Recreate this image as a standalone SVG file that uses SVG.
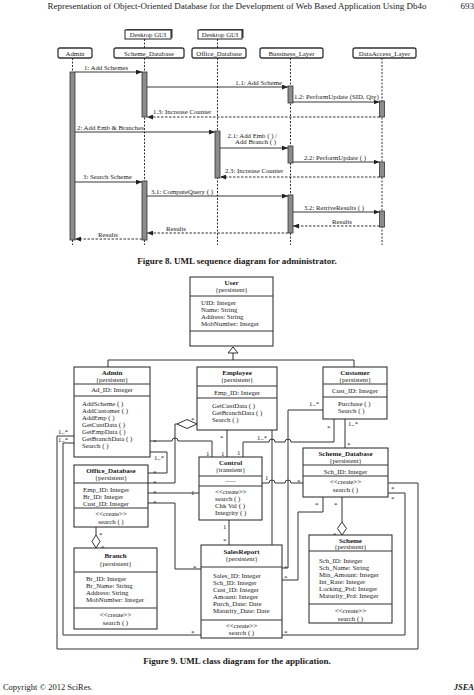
<svg xmlns="http://www.w3.org/2000/svg" width="474" height="695" viewBox="0 0 474 695">
<defs>
<style>
text{font-family:"Liberation Serif","Times New Roman",serif;fill:#1a1a1a}
.hd{font-size:9px}
.cap{font-size:9px;font-weight:bold}
.s{font-size:6.8px}
.c{font-size:6.8px}
.t{font-size:7px;font-weight:bold}
.m{text-anchor:middle}
.e{text-anchor:end}
.box{fill:#fff;stroke:#222;stroke-width:1}
.ll{fill:#fff;stroke:#333;stroke-width:1.3}
.life{stroke:#333;stroke-width:1;stroke-dasharray:2,1.5;fill:none}
.bar{fill:#8c8c8c;stroke:#333;stroke-width:0.8}
.msg{stroke:#222;stroke-width:0.9;fill:none}
.ret{stroke:#222;stroke-width:0.9;fill:none;stroke-dasharray:2.5,1.5}
.cn{stroke:#333;stroke-width:1;fill:none}
.dia{fill:#fff;stroke:#333;stroke-width:1}
</style>
<marker id="ah" viewBox="0 0 10 8" refX="10" refY="4" markerWidth="6" markerHeight="5" markerUnits="userSpaceOnUse" orient="auto"><path d="M0,0 L10,4 L0,8 Z" fill="#222"/></marker>
</defs>
<rect width="474" height="695" fill="#fff"/>
<text class="hd m" x="237" y="9">Representation of Object-Oriented Database for the Development of Web Based Application Using Db4o</text>
<text class="hd e" x="474" y="9">693</text>

<!-- Sequence diagram -->
<g id="seq-lifelines">
<line class="life" x1="144.5" y1="39" x2="144.5" y2="48"/>
<line class="life" x1="217.5" y1="39" x2="217.5" y2="48"/>
<line class="life" x1="72.5" y1="58" x2="72.5" y2="245"/>
<line class="life" x1="144.5" y1="58" x2="144.5" y2="245"/>
<line class="life" x1="217.5" y1="58" x2="217.5" y2="245"/>
<line class="life" x1="290.5" y1="58" x2="290.5" y2="245"/>
<line class="life" x1="382" y1="58" x2="382" y2="245"/>
</g>
<g id="gui1"><rect x="126.5" y="29" width="46" height="9" fill="#444"/><rect class="box" x="125" y="30" width="46" height="9"/><text class="s m" x="148" y="37">Desktop GUI</text></g>
<g id="gui2"><rect x="199.5" y="29" width="44" height="9" fill="#444"/><rect class="box" x="198" y="30" width="44" height="9"/><text class="s m" x="220" y="37">Desktop GUI</text></g>
<g id="admin-ll"><rect class="ll" x="58" y="48" width="34" height="10" rx="2"/><text class="s m" x="75" y="55.5">Admin</text></g>
<g id="schemedb-ll"><rect class="ll" x="114" y="48" width="70" height="10" rx="2"/><text class="s m" x="149" y="55.5">Scheme_Database</text></g>
<g id="officedb-ll"><rect class="ll" x="192" y="48" width="54" height="10" rx="2"/><text class="s m" x="219" y="55.5">Office_Database</text></g>
<g id="business-ll"><rect class="ll" x="260" y="48" width="63" height="10" rx="2"/><text class="s m" x="291.5" y="55.5">Bussiness_Layer</text></g>
<g id="dataaccess-ll"><rect class="ll" x="353" y="48" width="63" height="10" rx="2"/><text class="s m" x="384.5" y="55.5">DataAccess_Layer</text></g>

<g id="messages">
<line class="msg" x1="75" y1="72" x2="142" y2="72" marker-end="url(#ah)"/>
<text class="s m" x="106" y="70">1: Add Schemes</text>
<line class="msg" x1="147" y1="87" x2="288" y2="87" marker-end="url(#ah)"/>
<text class="s e" x="282" y="84.5">1.1: Add Scheme</text>
<line class="msg" x1="293" y1="102" x2="379.5" y2="102" marker-end="url(#ah)"/>
<text class="s" x="294" y="98.5">1.2: PerformUpdate (SID, Qty)</text>
<line class="ret" x1="379.5" y1="117" x2="147" y2="117" marker-end="url(#ah)"/>
<text class="s" x="153" y="113.5">1.3: Increase Counter</text>
<line class="msg" x1="75" y1="132" x2="215" y2="132" marker-end="url(#ah)"/>
<text class="s" x="77" y="129.5">2: Add Emb &amp; Branches</text>
<line class="msg" x1="220" y1="148" x2="288" y2="148" marker-end="url(#ah)"/>
<text class="s e" x="277" y="137.5">2.1: Add Emb ( ) /</text>
<text class="s e" x="276" y="143.5">Add Branch ( )</text>
<line class="msg" x1="293" y1="162" x2="379.5" y2="162" marker-end="url(#ah)"/>
<text class="s" x="304" y="159.5">2.2: PerformUpdate ( )</text>
<line class="ret" x1="379.5" y1="177" x2="220" y2="177" marker-end="url(#ah)"/>
<text class="s" x="225" y="172.5">2.3: Increase Counter</text>
<line class="msg" x1="75" y1="182" x2="142" y2="182" marker-end="url(#ah)"/>
<text class="s" x="83" y="178.5">3: Search Scheme</text>
<line class="msg" x1="147" y1="196" x2="288" y2="196" marker-end="url(#ah)"/>
<text class="s" x="151" y="194">3.1: ComputeQuery ( )</text>
<line class="msg" x1="293" y1="212" x2="379.5" y2="212" marker-end="url(#ah)"/>
<text class="s" x="304" y="209.5">3.2: RetriveResults ( )</text>
<line class="ret" x1="379.5" y1="226" x2="293" y2="226" marker-end="url(#ah)"/>
<text class="s" x="332" y="224">Results</text>
<line class="ret" x1="288" y1="233" x2="147" y2="233" marker-end="url(#ah)"/>
<text class="s" x="166" y="230.5">Results</text>
<line class="ret" x1="142" y1="239" x2="75" y2="239" marker-end="url(#ah)"/>
<text class="s" x="98" y="236.5">Results</text>
</g>
<g id="activations">
<rect class="bar" x="70" y="72" width="5" height="168"/>
<rect class="bar" x="142" y="72" width="5" height="45"/>
<rect class="bar" x="142" y="181" width="5" height="59"/>
<rect class="bar" x="215" y="131" width="5" height="47"/>
<rect class="bar" x="288" y="86" width="5" height="17"/>
<rect class="bar" x="288" y="146" width="5" height="17"/>
<rect class="bar" x="288" y="195" width="5" height="38"/>
<rect class="bar" x="379.5" y="101" width="5" height="16"/>
<rect class="bar" x="379.5" y="162" width="5" height="15"/>
<rect class="bar" x="379.5" y="211" width="5" height="16"/>
</g>
<text class="cap m" x="237" y="264">Figure 8. UML sequence diagram for administrator.</text>

<!-- Class diagram connectors -->
<g id="connectors">
<path class="cn" d="M233,353 V360 M108,367 V360 H354 V367"/>
<polygon class="dia" points="233,347 238,353 228,353"/>
<!-- Admin - Control -->
<path class="cn" d="M150,441 H172 A3,3 0 0 1 178,441 H212 V457"/>
<!-- Admin - Office -->
<path class="cn" d="M150,452 H167 V473 H148"/>
<!-- Employee aggregation - Office -->
<path class="cn" d="M177,424 H175 V483 H148"/>
<polygon class="dia" points="197,424 187,419.5 177,424 187,428.5"/>
<!-- Office - Control -->
<path class="cn" d="M148,493 H199"/>
<!-- Office - SalesReport -->
<path class="cn" d="M148,503 H175 V569 H201"/>
<!-- Admin - Scheme_Database outer -->
<path class="cn" d="M74,436 H57 V649 H418 V483 H388"/>
<!-- Admin - SalesReport -->
<path class="cn" d="M74,443 H63 V635 H201"/>
<!-- Scheme_Database - SalesReport right -->
<path class="cn" d="M388,493 H405 V635 H282"/>
<!-- Employee - Control -->
<path class="cn" d="M227,430 V457"/>
<!-- Customer - Control -->
<path class="cn" d="M334,419 V442 H291 A3,3 0 0 0 285,442 H275 A3,3 0 0 0 269,442 H243 V457"/>
<!-- Employee - SalesReport -->
<path class="cn" d="M272,430 V545"/>
<!-- Customer - SalesReport -->
<path class="cn" d="M323,410 H288 V568 H282"/>
<!-- Scheme_Database - SalesReport -->
<path class="cn" d="M323,497 V512 H298 V580 H282"/>
<!-- Customer - Scheme_Database -->
<path class="cn" d="M345,419 V448"/>
<!-- Control - Scheme_Database -->
<path class="cn" d="M262,483 H269 A3,3 0 0 1 275,483 H285 A3,3 0 0 1 291,483 H303"/>
<!-- Control - SalesReport -->
<path class="cn" d="M229,520 V545"/>
<!-- Office - Branch -->
<path class="cn" d="M96,527 V535"/>
<polygon class="dia" points="96,535 100,541.5 96,548 92,541.5"/>
<!-- Scheme_Database - Scheme -->
<path class="cn" d="M342,497 V522"/>
<polygon class="dia" points="342,522 346.5,528.5 342,535 337.5,528.5"/>
</g>
<g id="multiplicities" class="c">
<text x="153" y="444">*</text>
<text x="206" y="455.5">1</text>
<text x="154" y="460">1..*</text>
<text x="153" y="475">*</text>
<text x="191" y="422">*</text>
<text x="153" y="485">*</text>
<text x="153" y="495">*</text>
<text x="191" y="494.5">1</text>
<text x="153" y="505">*</text>
<text x="193" y="570">*</text>
<text x="58" y="433.5">1..*</text>
<text x="58" y="441.5">1..*</text>
<text x="391" y="491">*</text>
<text x="191" y="635">*</text>
<text x="391" y="501">*</text>
<text x="284" y="635">*</text>
<text x="220" y="440">*</text>
<text x="221" y="455.5">1</text>
<text x="327" y="430">*</text>
<text x="237" y="454.5">1</text>
<text x="257" y="439.5">1..*</text>
<text x="309" y="405.5">1..*</text>
<text x="284" y="570">*</text>
<text x="315" y="507">*</text>
<text x="284" y="580">*</text>
<text x="348" y="425.5">1..*</text>
<text x="347" y="447">*</text>
<text x="265" y="479.5">1</text>
<text x="297" y="484">*</text>
<text x="223" y="528.5">1</text>
<text x="223" y="543">*</text>
<text x="99" y="537">*</text>
<text x="101" y="550">*</text>
<text x="334" y="507">*</text>
<text x="333" y="537">*</text>
</g>

<!-- Classes -->
<g id="user">
<rect class="box" x="190" y="277" width="83" height="69"/>
<line class="cn" x1="190" y1="296" x2="273" y2="296"/><line class="cn" x1="190" y1="331" x2="273" y2="331"/>
<text class="t m" x="231.5" y="284.5">User</text>
<text class="c m" x="231.5" y="292">{persistent}</text>
<text class="c" x="201" y="305">UID: Integer</text>
<text class="c" x="201" y="312">Name: String</text>
<text class="c" x="201" y="319">Address: String</text>
<text class="c" x="201" y="326">MobNumber: Integer</text>
</g>
<g id="admin">
<rect class="box" x="74" y="367" width="76" height="90"/>
<line class="cn" x1="74" y1="384" x2="150" y2="384"/><line class="cn" x1="74" y1="396" x2="150" y2="396"/>
<text class="t m" x="112" y="374.5">Admin</text>
<text class="c m" x="112" y="381.5">{persistent}</text>
<text class="c m" x="112" y="392">Ad_ID: Integer</text>
<text class="c" x="82" y="405.5">AddScheme ( )</text>
<text class="c" x="82" y="412.6">AddCustomer ( )</text>
<text class="c" x="82" y="419.7">AddEmp ( )</text>
<text class="c" x="82" y="426.8">GetCustData ( )</text>
<text class="c" x="82" y="433.9">GetEmpData ( )</text>
<text class="c" x="82" y="441">GetBranchData ( )</text>
<text class="c" x="82" y="448.1">Search ( )</text>
</g>
<g id="employee">
<rect class="box" x="197" y="367" width="80" height="63"/>
<line class="cn" x1="197" y1="386" x2="277" y2="386"/><line class="cn" x1="197" y1="398" x2="277" y2="398"/>
<text class="t m" x="237" y="375">Employee</text>
<text class="c m" x="237" y="382">{persistent}</text>
<text class="c m" x="237" y="394.5">Emp_ID: Integer</text>
<text class="c" x="212" y="407.5">GetCustData ( )</text>
<text class="c" x="212" y="414.5">GetBranchData ( )</text>
<text class="c" x="212" y="421.5">Search ( )</text>
</g>
<g id="customer">
<rect class="box" x="323" y="367" width="64" height="52"/>
<line class="cn" x1="323" y1="384" x2="387" y2="384"/><line class="cn" x1="323" y1="397" x2="387" y2="397"/>
<text class="t m" x="355" y="374.5">Customer</text>
<text class="c m" x="355" y="381.5">{persistent}</text>
<text class="c m" x="355" y="392.5">Cust_ID: Integer</text>
<text class="c" x="338" y="405.5">Purchase ( )</text>
<text class="c" x="338" y="412.5">Search ( )</text>
</g>
<g id="scheme-database">
<rect class="box" x="303" y="448" width="85" height="49"/>
<line class="cn" x1="303" y1="465" x2="388" y2="465"/><line class="cn" x1="303" y1="476" x2="388" y2="476"/>
<text class="t m" x="345.5" y="455.5">Scheme_Database</text>
<text class="c m" x="345.5" y="462.5">{persistent}</text>
<text class="c m" x="345.5" y="473.5">Sch_ID: Integer</text>
<text class="c m" x="345.5" y="484">&lt;&lt;create&gt;&gt;</text>
<text class="c m" x="345.5" y="491.5">search ( )</text>
</g>
<g id="office-database">
<rect class="box" x="74" y="465" width="74" height="62"/>
<line class="cn" x1="74" y1="483" x2="148" y2="483"/><line class="cn" x1="74" y1="508" x2="148" y2="508"/>
<text class="t m" x="111" y="472.5">Office_Database</text>
<text class="c m" x="111" y="480">{persistent}</text>
<text class="c" x="83" y="491.5">Emp_ID: Integer</text>
<text class="c" x="83" y="498.5">Br_ID: Integer</text>
<text class="c" x="83" y="505.5">Cust_ID: Integer</text>
<text class="c m" x="111" y="515.5">&lt;&lt;create&gt;&gt;</text>
<text class="c m" x="111" y="523.5">search ( )</text>
</g>
<g id="control">
<rect class="box" x="199" y="457" width="63" height="63"/>
<line class="cn" x1="199" y1="476" x2="262" y2="476"/><line class="cn" x1="199" y1="486" x2="262" y2="486"/>
<text class="t m" x="230.5" y="464.5">Control</text>
<text class="c m" x="230.5" y="472">{transient}</text>
<text class="c m" x="230.5" y="481.5">......</text>
<text class="c" x="215" y="493.5">&lt;&lt;create&gt;&gt;</text>
<text class="c" x="215" y="500.5">search ( )</text>
<text class="c" x="215" y="507.5">Chk Val ( )</text>
<text class="c" x="215" y="514.5">Integrity ( )</text>
</g>
<g id="branch">
<rect class="box" x="74" y="548" width="83" height="81"/>
<line class="cn" x1="74" y1="572" x2="157" y2="572"/><line class="cn" x1="74" y1="608" x2="157" y2="608"/>
<text class="t m" x="115.5" y="558">Branch</text>
<text class="c m" x="115.5" y="566">{persistent}</text>
<text class="c" x="86" y="580.5">Br_ID: Integer</text>
<text class="c" x="86" y="587.5">Br_Name: String</text>
<text class="c" x="86" y="594.5">Address: String</text>
<text class="c" x="86" y="601.5">MobNumber: Integer</text>
<text class="c m" x="115.5" y="616.5">&lt;&lt;create&gt;&gt;</text>
<text class="c m" x="115.5" y="624.5">search ( )</text>
</g>
<g id="salesreport">
<rect class="box" x="201" y="545" width="81" height="93"/>
<line class="cn" x1="201" y1="567" x2="282" y2="567"/><line class="cn" x1="201" y1="620" x2="282" y2="620"/>
<text class="t m" x="241.5" y="553.5">SalesReport</text>
<text class="c m" x="241.5" y="561">{persistent}</text>
<text class="c" x="213" y="577.5">Sales_ID: Integer</text>
<text class="c" x="213" y="584.5">Sch_ID: Integer</text>
<text class="c" x="213" y="591.5">Cust_ID: Integer</text>
<text class="c" x="213" y="598.5">Amount: Integer</text>
<text class="c" x="213" y="605.5">Purch_Date: Date</text>
<text class="c" x="213" y="612.5">Maturity_Date: Date</text>
<text class="c m" x="241.5" y="627.5">&lt;&lt;create&gt;&gt;</text>
<text class="c m" x="241.5" y="634.5">search ( )</text>
</g>
<g id="scheme">
<rect class="box" x="309" y="535" width="83" height="88"/>
<line class="cn" x1="309" y1="551" x2="392" y2="551"/><line class="cn" x1="309" y1="604" x2="392" y2="604"/>
<text class="t m" x="350.5" y="542.5">Scheme</text>
<text class="c m" x="350.5" y="549">{persistent}</text>
<text class="c" x="319" y="562.5">Sch_ID: Integer</text>
<text class="c" x="319" y="569.5">Sch_Name: String</text>
<text class="c" x="319" y="576.5">Min_Amount: Integer</text>
<text class="c" x="319" y="584">Int_Rate: Integer</text>
<text class="c" x="319" y="591">Locking_Prd: Integer</text>
<text class="c" x="319" y="598">Maturity_Prd: Integer</text>
<text class="c m" x="350.5" y="613">&lt;&lt;create&gt;&gt;</text>
<text class="c m" x="350.5" y="620.5">search ( )</text>
</g>
<text class="cap m" x="237" y="664">Figure 9. UML class diagram for the application.</text>
<text class="e" x="93" y="690" style="font-size:8.5px">Copyright © 2012 SciRes.</text>
<text class="e" x="474" y="690" style="font-size:8.5px;font-weight:bold;font-style:italic">JSEA</text>
</svg>
